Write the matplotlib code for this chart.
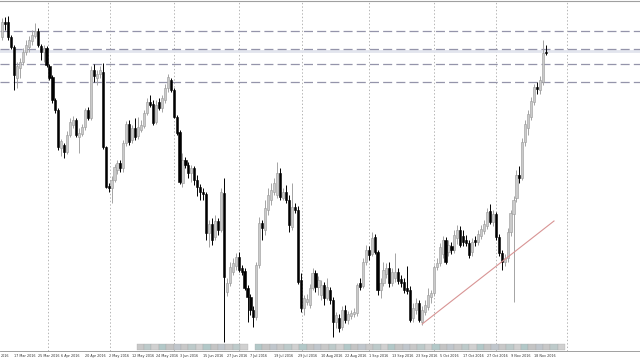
import numpy as np
import matplotlib
matplotlib.use("Agg")
import matplotlib.pyplot as plt
import matplotlib.transforms as mtransforms

# daily candles, Mar - Nov 2016 (one entry per bar)
opens = [113.15, 113.90, 113.90, 113.15, 112.65, 111.10, 111.60, 111.90, 112.40, 112.65,
         112.95, 113.20, 113.45, 112.70, 112.40, 112.60, 111.70, 111.15, 110.00, 109.50,
         107.60, 107.75, 107.40, 108.25, 108.75, 109.00, 108.15, 108.30, 108.65, 109.50,
         109.10, 111.50, 111.10, 111.30, 111.40, 107.65, 105.70, 105.60, 106.00, 106.50,
         106.85, 106.60, 107.85, 108.80, 108.00, 108.60, 108.20, 108.50, 108.70, 109.35,
         109.90, 109.80, 108.90, 109.90, 109.60, 110.00, 110.60, 111.00, 110.50, 109.15,
         108.40, 105.85, 107.00, 106.75, 106.35, 106.60, 106.00, 105.65, 105.40, 105.30,
         103.35, 103.80, 103.15, 103.95, 103.50, 105.35, 100.40, 100.85, 101.40, 101.70,
         102.15, 101.60, 101.45, 100.60, 100.15, 99.50, 99.15, 101.75, 103.85, 103.50,
         104.50, 105.00, 105.40, 105.25, 106.35, 105.10, 105.40, 105.00, 103.65, 104.65,
         104.50, 101.00, 99.60, 99.90, 99.75, 100.60, 101.35, 100.65, 100.25, 100.75,
         100.10, 100.50, 100.00, 98.90, 99.10, 98.65, 99.50, 99.00, 99.20, 99.30,
         99.35, 100.85, 100.70, 101.90, 102.50, 102.30, 103.15, 102.40, 100.50, 100.85,
         101.30, 101.60, 100.85, 101.10, 101.40, 101.05, 100.90, 100.60, 100.50, 99.10,
         99.50, 99.85, 98.90, 99.40, 99.65, 100.15, 100.35, 101.65, 101.85, 102.30,
         103.00, 102.40, 102.70, 102.50, 103.10, 103.50, 103.20, 103.00, 102.85, 102.40,
         103.00, 102.90, 103.20, 103.45, 103.70, 104.45, 103.90, 104.30, 103.15, 102.35,
         101.90, 102.10, 103.40, 104.30, 105.10, 106.25, 106.10, 107.90, 108.60, 109.15,
         109.90, 110.65, 110.50, 110.90, 112.40]
highs = [114.10, 114.15, 114.20, 113.25, 112.75, 111.90, 112.10, 112.60, 113.00, 113.20,
         113.50, 113.85, 113.60, 112.80, 112.75, 112.70, 111.80, 111.25, 110.10, 109.60,
         108.05, 107.85, 108.45, 109.10, 109.20, 109.10, 108.60, 108.80, 109.60, 109.65,
         111.70, 111.80, 111.50, 111.70, 111.85, 107.70, 105.85, 106.20, 106.80, 107.00,
         107.00, 108.00, 108.95, 109.00, 108.75, 109.10, 109.15, 109.00, 109.50, 110.10,
         110.25, 110.00, 110.00, 110.10, 110.25, 110.80, 111.30, 111.10, 110.60, 109.25,
         108.50, 107.35, 107.15, 106.90, 106.75, 106.70, 106.25, 105.80, 105.60, 105.40,
         104.00, 104.10, 104.25, 104.10, 105.60, 106.10, 101.10, 101.90, 102.10, 102.35,
         102.40, 101.75, 101.60, 100.75, 100.30, 99.70, 101.90, 104.15, 104.00, 105.00,
         105.60, 105.85, 106.10, 106.90, 106.60, 105.60, 105.75, 105.25, 105.85, 104.85,
         104.70, 101.35, 100.25, 100.30, 100.80, 101.60, 101.50, 101.20, 101.00, 100.90,
         101.10, 100.65, 100.15, 99.40, 99.30, 99.70, 99.75, 99.45, 99.50, 99.60,
         100.85, 101.10, 102.10, 102.75, 102.70, 103.40, 103.30, 102.50, 101.10, 101.90,
         101.85, 101.90, 101.60, 102.35, 101.60, 101.25, 101.10, 101.70, 100.70, 99.85,
         100.10, 100.00, 99.70, 100.00, 100.60, 100.50, 101.75, 102.10, 102.85, 103.20,
         103.15, 103.00, 102.90, 103.50, 103.75, 103.70, 103.50, 103.25, 103.00, 103.10,
         103.20, 103.50, 103.75, 104.00, 104.60, 104.80, 104.50, 104.40, 103.30, 102.50,
         102.30, 103.60, 104.50, 105.20, 106.50, 106.70, 108.10, 109.00, 109.50, 110.15,
         110.80, 110.90, 111.20, 113.00, 112.75]
lows = [113.00, 113.50, 113.00, 112.55, 110.50, 110.60, 111.10, 111.75, 112.25, 112.40,
        112.75, 113.10, 112.65, 112.00, 111.90, 111.65, 111.00, 109.85, 109.35, 107.50,
        107.20, 107.10, 107.30, 108.15, 108.60, 108.15, 107.35, 108.20, 108.50, 109.00,
        109.00, 110.90, 110.75, 111.10, 107.55, 105.60, 105.40, 104.85, 105.90, 106.30,
        106.40, 106.40, 107.70, 107.75, 107.85, 108.00, 108.05, 108.40, 108.60, 109.25,
        109.65, 108.75, 108.80, 109.50, 109.40, 109.85, 110.40, 110.40, 109.10, 108.25,
        105.80, 105.65, 106.60, 106.10, 105.90, 105.75, 105.20, 105.00, 105.00, 103.00,
        102.65, 102.75, 103.00, 103.25, 103.40, 97.90, 100.20, 100.70, 101.25, 101.50,
        101.40, 101.25, 100.50, 98.90, 99.25, 98.65, 99.00, 101.60, 103.00, 103.25,
        104.25, 104.75, 105.25, 105.10, 105.00, 105.00, 104.85, 103.40, 103.50, 104.35,
        100.80, 99.40, 99.25, 99.75, 99.60, 100.50, 100.40, 100.25, 100.00, 99.75,
        100.00, 99.80, 98.15, 98.60, 98.40, 98.50, 98.85, 98.80, 99.05, 99.15,
        99.20, 100.50, 100.60, 101.75, 102.00, 102.20, 102.30, 100.25, 100.10, 100.70,
        101.10, 100.65, 100.70, 100.90, 100.80, 100.65, 100.35, 100.30, 98.90, 98.90,
        99.30, 98.90, 98.75, 99.25, 99.50, 99.85, 100.20, 101.50, 101.70, 102.10,
        101.80, 102.20, 102.30, 102.35, 102.80, 102.65, 102.70, 102.70, 102.10, 102.20,
        102.70, 102.75, 103.05, 103.30, 103.55, 103.80, 103.70, 103.00, 102.20, 101.50,
        101.70, 101.90, 103.20, 99.90, 104.90, 105.85, 106.00, 107.70, 108.25, 109.00,
        109.75, 110.30, 110.30, 110.75, 112.25]
closes = [113.90, 113.80, 113.15, 112.65, 111.25, 111.70, 111.90, 112.40, 112.75, 113.00,
          113.25, 113.45, 112.75, 112.40, 112.60, 111.75, 111.10, 110.00, 109.50, 107.65,
          107.95, 107.40, 108.25, 108.90, 109.00, 108.25, 108.35, 108.65, 109.50, 109.10,
          111.50, 111.20, 111.30, 111.50, 107.65, 105.65, 105.60, 106.00, 106.65, 106.85,
          106.60, 107.85, 108.80, 107.90, 108.60, 108.15, 108.65, 108.75, 109.35, 109.90,
          109.75, 108.85, 109.75, 109.60, 110.10, 110.60, 111.15, 110.50, 109.15, 108.35,
          105.90, 107.00, 106.75, 106.35, 106.60, 106.00, 105.65, 105.40, 105.30, 103.35,
          103.80, 103.00, 103.95, 103.50, 105.40, 101.15, 100.85, 101.65, 101.85, 102.15,
          101.50, 101.40, 100.60, 100.15, 99.50, 99.15, 101.75, 103.85, 103.60, 104.60,
          105.25, 105.50, 105.85, 106.35, 105.15, 105.40, 105.00, 103.75, 104.65, 104.50,
          100.90, 99.60, 100.10, 100.05, 100.60, 101.35, 100.65, 101.00, 100.75, 100.10,
          100.65, 100.00, 98.90, 99.25, 98.60, 99.50, 99.00, 99.30, 99.35, 99.40,
          100.75, 100.65, 101.90, 102.50, 102.25, 103.10, 102.40, 100.50, 100.85, 101.50,
          101.60, 100.85, 101.40, 101.40, 100.95, 100.85, 100.50, 100.45, 99.00, 99.60,
          99.85, 99.00, 99.50, 99.75, 100.25, 100.35, 101.65, 101.85, 102.65, 103.00,
          101.90, 102.75, 102.50, 103.25, 103.50, 102.75, 102.90, 102.85, 102.25, 102.90,
          102.90, 103.30, 103.55, 103.80, 104.40, 103.90, 104.30, 103.15, 102.35, 101.90,
          102.10, 103.40, 104.35, 105.00, 106.25, 106.10, 107.90, 108.80, 109.30, 109.95,
          110.65, 110.55, 111.00, 112.35, 112.35]

# bottom axis labels (the first one only shows its year at the left edge)
date_labels = ["2016", "17 Mar 2016", "25 Mar 2016", "6 Apr 2016", "20 Apr 2016",
               "2 May 2016", "12 May 2016", "24 May 2016", "3 Jun 2016", "15 Jun 2016",
               "27 Jun 2016", "7 Jul 2016", "19 Jul 2016", "29 Jul 2016", "10 Aug 2016",
               "22 Aug 2016", "1 Sep 2016", "13 Sep 2016", "23 Sep 2016", "5 Oct 2016",
               "17 Oct 2016", "27 Oct 2016", "9 Nov 2016", "18 Nov 2016"]
label_bars = [-0.45] + [4 + 8 * i for i in range(len(date_labels) - 1)]

grid_bars = [15.5, 36.5, 58.1, 80.1, 101.5, 124.1, 146.1, 167.1, 191.1]
level_lines = [113.45, 112.55, 111.80, 110.90]
bid_level = 112.45
trend_bars = [142.1, 186.7]
trend_prices = [98.80, 103.95]
strip_spans = [(46, 83), (86, 190)]

plt.rcParams['lines.scale_dashes'] = False

o = np.array(opens)
h = np.array(highs)
l = np.array(lows)
c = np.array(closes)
x = np.arange(len(c))
up = c >= o

fig = plt.figure(figsize=(6.4, 3.6), dpi=100)
ax = fig.add_axes([0, 9 / 360, 1, 350 / 360])
ax.set_xlim(-0.745, 215.8)
ax.set_ylim(97.45, 114.95)

# grid + levels
for gx in grid_bars:
    ax.axvline(gx, color='#a8a8a8', lw=0.6, ls=(0, (1, 1.5)), zorder=1)
ax.axhline(bid_level, color='#e2e5ee', lw=2.0, zorder=1)
for lv in level_lines:
    ax.axhline(lv, color='#9494aa', lw=0.9, dashes=(6.5, 3), zorder=2)

# candles
ax.vlines(x[up], l[up], h[up], color='#a4a4a4', lw=0.7, zorder=3)
ax.vlines(x[~up], l[~up], h[~up], color='black', lw=0.7, zorder=3)
body_lo = np.minimum(o, c)
body_h = np.maximum(np.abs(c - o), 0.06)
ax.bar(x[up], body_h[up], bottom=body_lo[up], width=0.72,
       color='#cacaca', edgecolor='#989898', linewidth=0.4, zorder=4)
ax.bar(x[~up], body_h[~up], bottom=body_lo[~up], width=0.72,
       color='black', edgecolor='black', linewidth=0.4, zorder=4)

# trend line
ax.plot(trend_bars, trend_prices, color='#d89494', lw=0.8, zorder=5)

# strip of object labels along the bottom
trans = mtransforms.blended_transform_factory(ax.transData, ax.transAxes)
strip_colors = ['#c8c8c8', '#bdcaca', '#d0d0d0', '#b2c8c8', '#c4c4c4', '#c0c6cc']
k = 0
for a, b in strip_spans:
    for bx in np.arange(a, b, 2.5):
        ax.add_patch(plt.Rectangle((bx - 0.5, 0.002), 2.5, 0.019, transform=trans,
                                   facecolor=strip_colors[k % len(strip_colors)],
                                   edgecolor='#a4a4a4', linewidth=0.2, zorder=6))
        k += 1

for lb, txt in zip(label_bars, date_labels):
    ax.text(lb, -0.013, txt, transform=trans, fontsize=2.4, color='#303030',
            ha='left', va='center', clip_on=False)

ax.set_xticks([])
ax.set_yticks([])
for side in ['left', 'right']:
    ax.spines[side].set_visible(False)
ax.spines['top'].set_color('#a0a0a0')
ax.spines['bottom'].set_color('#909090')
ax.spines['top'].set_linewidth(0.8)
ax.spines['bottom'].set_linewidth(0.6)

fig.savefig('out.png', dpi=100)
